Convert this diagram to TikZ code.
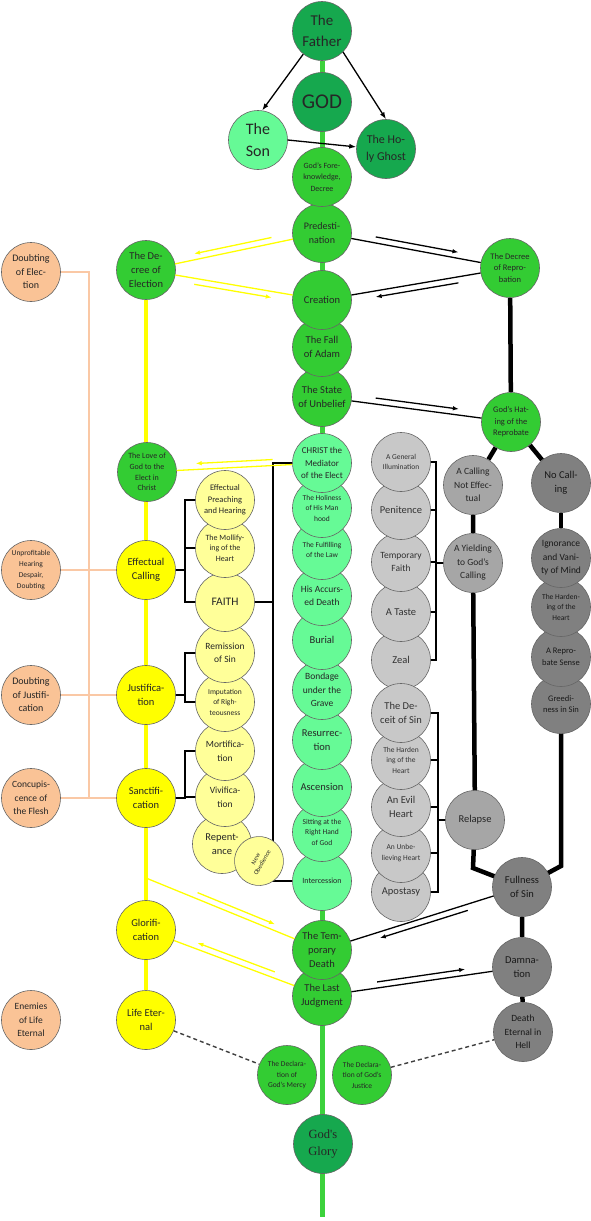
\documentclass[tikz,border=0pt]{standalone}
\usepackage{fontspec}
\setmainfont{Carlito}
\newfontfamily\gloryfont{Liberation Serif}
\usetikzlibrary{arrows.meta,calc,backgrounds}
\definecolor{cDG}{RGB}{22,168,78}
\definecolor{cMG}{RGB}{51,204,51}
\definecolor{cLG}{RGB}{102,250,150}
\definecolor{cYE}{RGB}{255,255,0}
\definecolor{cLY}{RGB}{255,255,153}
\definecolor{cG1}{RGB}{200,200,200}
\definecolor{cG2}{RGB}{166,166,166}
\definecolor{cG3}{RGB}{128,128,128}
\definecolor{cOR}{RGB}{250,195,150}
\definecolor{cOL}{RGB}{250,200,165}
\definecolor{cSP}{RGB}{60,210,60}
\newcommand\dblarr[4]{%
  \draw[#3,line width=1.3pt] (#1) -- (#2);
  \draw[#3,line width=1.3pt,-{Latex[length=6pt,width=4.5pt]}]
    ($(#1)!0.28!(#2)!6pt!#4:(#2)$) -- ($(#1)!0.72!(#2)!6pt!#4:(#2)$);}
\begin{document}
\begin{tikzpicture}[x=1pt,y=-1pt,
  bub/.style={circle,draw=black!60,line width=0.6pt,minimum size=59pt,inner sep=0pt,align=center,text=black!85,font=\fontsize{10.5}{14}\selectfont},
  dgn/.style={bub,fill=cDG},
  mgn/.style={bub,fill=cMG},
  lgn/.style={bub,fill=cLG},
  yel/.style={bub,fill=cYE},
  lyel/.style={bub,fill=cLY},
  gra/.style={bub,fill=cG1,text=black!80},
  grb/.style={bub,fill=cG2,text=black!85},
  grc/.style={bub,fill=cG3,text=black!90},
  peach/.style={bub,fill=cOR},
  fa/.style={font=\fontsize{7.5}{10.5}\selectfont},
  fb/.style={font=\fontsize{8.5}{11.5}\selectfont},
  fc/.style={font=\fontsize{9.5}{13.5}\selectfont},
  spine/.style={cSP,line width=5pt},
  yspine/.style={cYE,line width=4.5pt},
  tk/.style={black,line width=4.5pt,line join=miter},
  br/.style={black,line width=1.8pt},
  ol/.style={cOL,line width=1.8pt},
  tarr/.style={black,line width=1.3pt,-{Latex[length=7pt,width=5pt]}},
  dsh/.style={black!75,line width=1.4pt,dash pattern=on 4pt off 3pt}
]
\useasboundingbox (0,0) rectangle (591,1221);
% ---- top trinity
\node[dgn,font=\fontsize{15}{21}\selectfont] (F) at (322,31) {The\\Father};
\node[dgn,font=\fontsize{21}{24}\selectfont] (GOD) at (322,102) {GOD};
\node[lgn,font=\fontsize{16}{22}\selectfont] (SON) at (258,140) {The\\Son};
\node[dgn,font=\fontsize{12}{17}\selectfont] (HG) at (386,149) {The Ho-\\ly Ghost};
% ---- main column
\node[mgn,font=\fontsize{10}{14}\selectfont] (PRED) at (322,233) {Predesti-\\nation};
\node[mgn,font=\fontsize{8}{11.5}\selectfont] (FK) at (322,177) {God's Fore-\\knowledge,\\Decree};
\node[mgn] (UNB) at (322,397) {The State\\of Unbelief};
\node[mgn] (FALL) at (322,347) {The Fall\\of Adam};
\node[mgn] (CRE) at (322,300) {Creation};
\node[lgn,font=\fontsize{8}{10.5}\selectfont] (INT) at (322,881) {Intercession};
\node[lgn,fa] (SIT) at (322,832) {Sitting at the\\Right Hand\\of God};
\node[lgn] (ASC) at (322,787) {Ascension};
\node[lgn] (RES) at (322,740) {Resurrec-\\tion};
\node[lgn,fc] (BON) at (322,690) {Bondage\\under the\\Grave};
\node[lgn] (BUR) at (322,640) {Burial};
\node[lgn,fc] (ACC) at (322,596) {His Accurs-\\ed Death};
\node[lgn,fa] (FUL) at (322,550) {The Fulfilling\\of the Law};
\node[lgn,fa] (HOL) at (322,508) {The Holiness\\of His Man\\hood};
\node[lgn,font=\fontsize{9}{12.5}\selectfont] (CH) at (322,463) {CHRIST the\\Mediator\\of the Elect};
\node[mgn] (LJ) at (322,996) {The Last\\Judgment};
\node[mgn] (TD) at (322,950) {The Tem-\\porary\\Death};
\node[mgn,fa] (DM) at (287,1075) {The Declara-\\tion of\\God's Mercy};
\node[mgn,fa] (DJ) at (362,1075) {The Declara-\\tion of God's\\Justice};
\node[dgn,font=\fontsize{12.5}{17}\gloryfont] (GG) at (323,1144) {God's\\Glory};
\coordinate (bot) at (322,1217);
% ---- reprobation side
\node[mgn,fb] (DR) at (510,268) {The Decree\\of Repro-\\bation};
\node[mgn,fb] (GH) at (511,422) {God's Hat-\\ing of the\\Reprobate};
\node[grb,fc] (AC) at (473,485) {A Calling\\Not Effec-\\tual};
\node[grb,fc] (AY) at (473,563) {A Yielding\\to God's\\Calling};
\node[grb] (REL) at (475,820) {Relapse};
\node[grc] (NC) at (561,483) {No Call-\\ing};
\node[grc,fb] (GR) at (561,704) {Greedi-\\ness in Sin};
\node[grc,fb] (REP) at (561,657) {A Repro-\\bate Sense};
\node[grc,fa] (HARD) at (561,607) {The Harden-\\ing of the\\Heart};
\node[grc,fc] (IG) at (561,558) {Ignorance\\and Vani-\\ty of Mind};
\node[grc] (FS) at (522,887) {Fullness\\of Sin};
\node[grc] (DA) at (522,967) {Damna-\\tion};
\node[grc,fc] (DEH) at (523,1032) {Death\\Eternal in\\Hell};
\coordinate (kL) at (473,868);
\coordinate (kR) at (561,866);
% ---- light grey column
\node[gra] (ZE) at (401,660) {Zeal};
\node[gra] (TA) at (401,612) {A Taste};
\node[gra,fc] (TF) at (401,562) {Temporary\\Faith};
\node[gra] (PEN) at (401,510) {Penitence};
\node[gra,fa] (GI) at (401,462) {A General\\Illumination};
\node[gra] (APO) at (401,892) {Apostasy};
\node[gra,fa] (UBH) at (401,853) {An Unbe-\\lieving Heart};
\node[gra] (EH) at (401,807) {An Evil\\Heart};
\node[gra,fa] (HH) at (401,760) {The Harden\\ing of the\\Heart};
\node[gra] (DS) at (401,713) {The De-\\ceit of Sin};
% ---- yellow column
\node[mgn] (DE) at (146,270) {The De-\\cree of\\Election};
\node[mgn,font=\fontsize{8}{10.7}\selectfont] (LOVE) at (147,472) {The Love of\\God to the\\Elect in\\Christ};
\node[yel] (EC) at (146,570) {Effectual\\Calling};
\node[yel] (JU) at (146,695) {Justifica-\\tion};
\node[yel] (SA) at (146,798) {Sanctifi-\\cation};
\node[yel] (GLO) at (146,930) {Glorifi-\\cation};
\node[yel] (LE) at (146,1020) {Life Eter-\\nal};
\coordinate (yj) at (146,878);
% ---- light yellow column
\node[lyel] (REPE) at (222,844) {Repent-\\ance};
\node[lyel,minimum size=49pt,rotate=60,font=\fontsize{6.3}{7.6}\selectfont] (NO) at (259,861) {New\\Obedience};
\node[lyel,fc] (VIV) at (225,797) {Vivifica-\\tion};
\node[lyel,fc] (MORT) at (225,751) {Mortifica-\\tion};
\node[lyel,fa] (IM) at (225,702) {Imputation\\of Righ-\\teousness};
\node[lyel,fc] (RE) at (225,653) {Remission\\of Sin};
\node[lyel,font=\fontsize{11.5}{14}\selectfont] (FA) at (225,602) {FAITH};
\node[lyel,font=\fontsize{8}{10.7}\selectfont] (MO) at (225,548) {The Mollify-\\ing of the\\Heart};
\node[lyel,fb] (EP) at (225,500) {Effectual\\Preaching\\and Hearing};
\coordinate (vb) at (273,841);
% ---- peach column
\node[peach,font=\fontsize{10}{13.5}\selectfont] (DOE) at (31,272) {Doubting\\of Elec-\\tion};
\node[peach,font=\fontsize{7.5}{10.8}\selectfont] (UPH) at (31,570) {Unprofitable\\Hearing\\Despair,\\Doubting};
\node[peach,font=\fontsize{10}{13.5}\selectfont] (DOJ) at (31,695) {Doubting\\of Justifi-\\cation};
\node[peach,fc] (CON) at (31,798) {Concupis-\\cence of\\the Flesh};
\node[peach,fc] (ENE) at (31,1020) {Enemies\\of Life\\Eternal};
\coordinate (ot) at (89,272);
\coordinate (ob) at (89,798);
% ---- trinity arrows
\draw[tarr] (F.231) -- (SON.82);
\draw[tarr] (F.-45) -- (HG.90);
\draw[tarr] (SON.0) -- (HG.176);
% ---- background connectors
\begin{pgfonlayer}{background}
\draw[spine] (F) -- (bot);
\draw[yspine] (DE) -- (LE);
\draw[ol] (DOE) -- (ot) -- (ob);
\draw[ol] (UPH) -- (EC);
\draw[ol] (DOJ) -- (JU);
\draw[ol] (CON) -- (SA);
\draw[tk] (DR) -- (GH);
\draw[tk] (GH) -- (AC);
\draw[tk] (GH) -- (NC);
\draw[tk] (AC) -- (AY) -- (REL.center) -- (kL) -- (FS.center);
\draw[tk] (NC) -- (IG);
\draw[tk] (GR.center) -- (kR) -- (FS.center);
\draw[tk] (FS) -- (DA) -- (DEH);
\draw[br] (EP.west) -- ++(-10,0) |- (EC.east);
\draw[br] (MO.west) -- ++(-10,0) |- (EC.east);
\draw[br] (FA.west) -- ++(-10,0) |- (EC.east);
\draw[br] (RE.west) -- ++(-10,0) |- (JU.east);
\draw[br] (IM.west) -- ++(-10,0) |- (JU.east);
\draw[br] (MORT.west) -- ++(-10,0) |- (SA.east);
\draw[br] (VIV.west) -- ++(-10,0) |- (SA.east);
\draw[br] (CH.west) -| (vb);
\draw[br] (FA.east) -- (FA.east -| vb);
\draw[br] (INT.west) -- ++(-24,0);
\foreach \n in {GI,PEN,TF,TA,ZE} \draw[br] (\n.east) -- ++(5,0) |- (AY.west);
\foreach \n in {DS,HH,EH,UBH,APO} \draw[br] (\n.east) -- ++(7,0) |- (REL.west);
\draw[dsh] (LE) -- (DM);
\draw[dsh] (DJ) -- (DEH);
\end{pgfonlayer}
% ---- double arrows
\dblarr{PRED}{DE}{cYE}{-90}
\dblarr{DE}{CRE}{cYE}{-90}
\dblarr{CH}{LOVE}{cYE}{-90}
\dblarr{yj}{TD}{cYE}{90}
\dblarr{LJ}{GLO}{cYE}{-90}
\dblarr{PRED}{DR}{black}{90}
\dblarr{DR}{CRE}{black}{90}
\dblarr{UNB}{GH}{black}{90}
\dblarr{FS}{TD}{black}{90}
\dblarr{LJ}{DA}{black}{90}
\end{tikzpicture}
\end{document}
